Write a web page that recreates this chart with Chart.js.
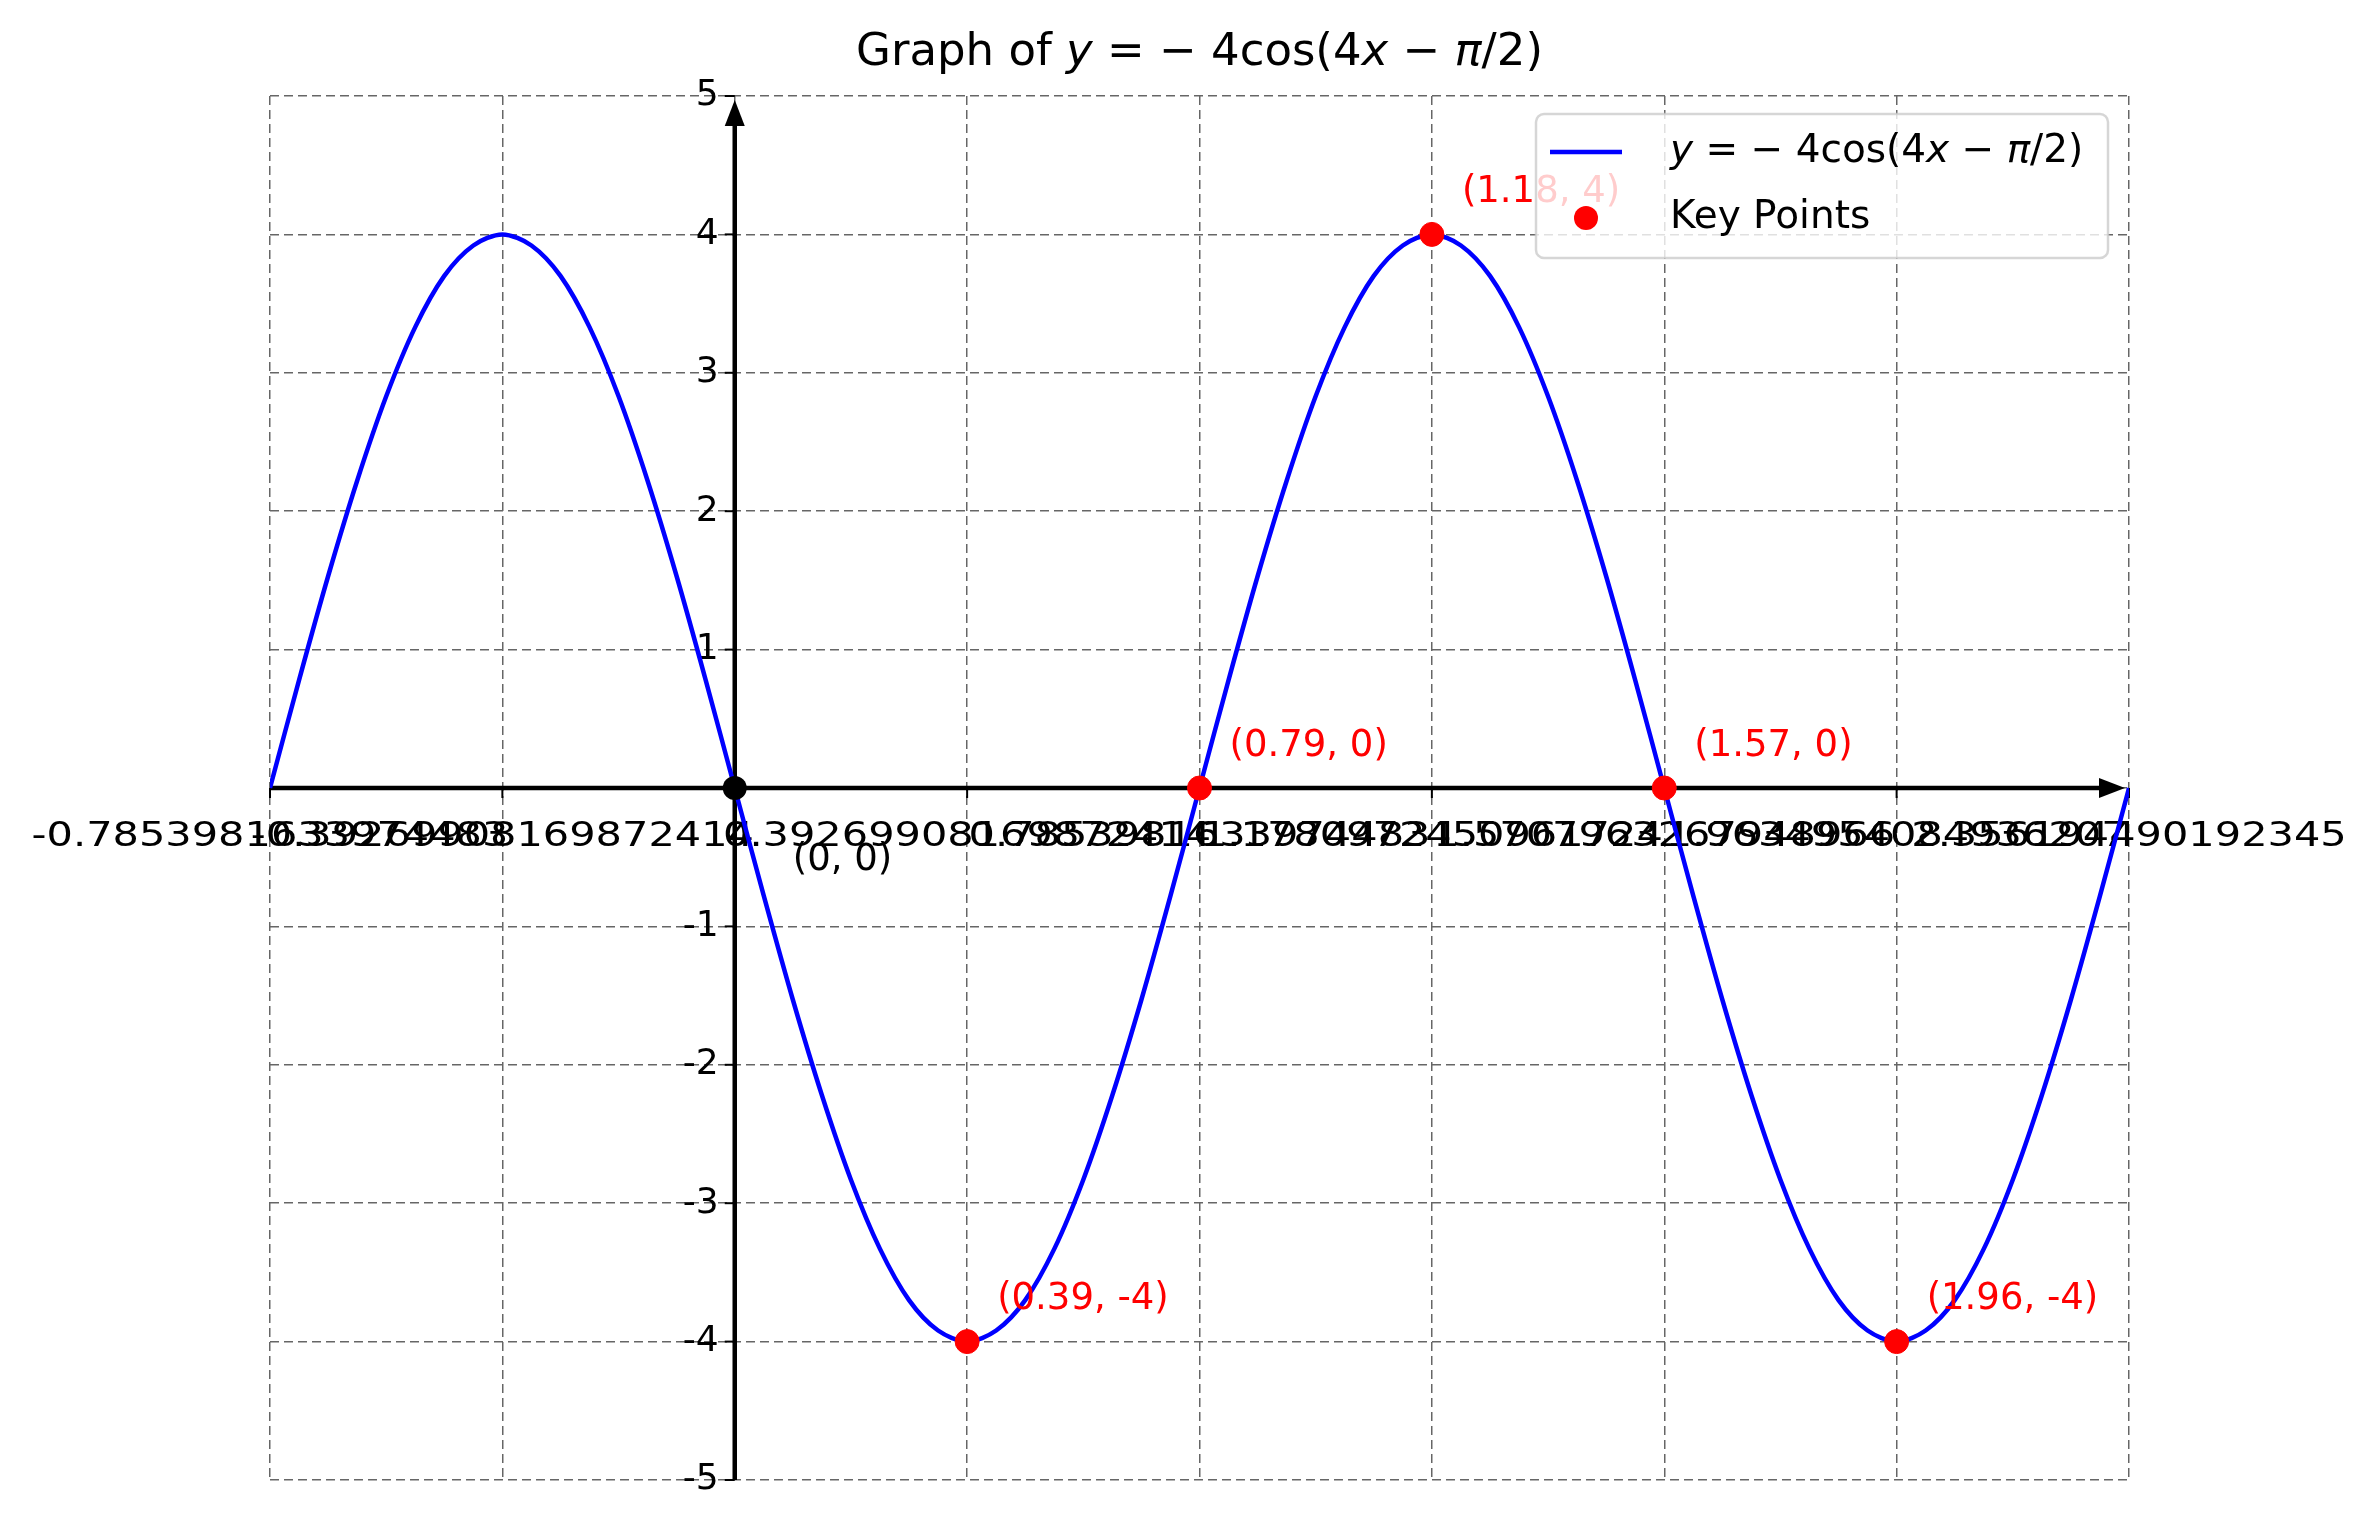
<!DOCTYPE html>
<html><head><meta charset="utf-8">
<script src="https://cdn.jsdelivr.net/npm/chart.js@4"></script>
<style>html,body{margin:0;padding:0;background:#fff}canvas{display:block}</style>
</head><body>
<canvas id="c" width="2378" height="1536" style="width:2378px;height:1536px"></canvas>
<script>
const curveX = [-0.7854,-0.7363,-0.6872,-0.6381,-0.5890,-0.5400,-0.4909,-0.4418,-0.3927,-0.3436,-0.2945,-0.2454,-0.1963,-0.1473,-0.0982,-0.0491,0,
0.0491,0.0982,0.1473,0.1963,0.2454,0.2945,0.3436,0.3927,0.4418,0.4909,0.5400,0.5890,0.6381,0.6872,0.7363,0.7854,
0.8345,0.8836,0.9327,0.9817,1.0308,1.0799,1.1290,1.1781,1.2272,1.2763,1.3254,1.3744,1.4235,1.4726,1.5217,1.5708,
1.6199,1.6690,1.7181,1.7671,1.8162,1.8653,1.9144,1.9635,2.0126,2.0617,2.1108,2.1598,2.2089,2.2580,2.3071,2.3562];
const curveY = [0,0.78,1.53,2.22,2.83,3.33,3.70,3.92,4,3.92,3.70,3.33,2.83,2.22,1.53,0.78,0,
-0.78,-1.53,-2.22,-2.83,-3.33,-3.70,-3.92,-4,-3.92,-3.70,-3.33,-2.83,-2.22,-1.53,-0.78,0,
0.78,1.53,2.22,2.83,3.33,3.70,3.92,4,3.92,3.70,3.33,2.83,2.22,1.53,0.78,0,
-0.78,-1.53,-2.22,-2.83,-3.33,-3.70,-3.92,-4,-3.92,-3.70,-3.33,-2.83,-2.22,-1.53,-0.78,0];
const keyX = [0.3927,0.7854,1.1781,1.5708,1.9635];
const keyY = [-4,0,4,0,-4];
const keyLabels = ["(0.39, -4)","(0.79, 0)","(1.18, 4)","(1.57, 0)","(1.96, -4)"];
const xTicks = [-0.7853981633974483,-0.39269908169872414,0,0.39269908169872414,0.7853981633974483,1.1780972450961724,1.5707963267948966,1.9634954084936207,2.356194490192345];
const xTickLabels = ["-0.7853981633974483","-0.39269908169872414","","0.39269908169872414","0.7853981633974483","1.1780972450961724","1.5707963267948966","1.9634954084936207","2.356194490192345"];
const yTicks = [-5,-4,-3,-2,-1,0,1,2,3,4,5];
const yTickLabels = ["-5","-4","-3","-2","-1","","1","2","3","4","5"];
const titleParts = [["Graph of ",0],["y",1],[" = − 4cos(4",0],["x",1],[" − ",0],["π",1],["/2)",0]];
const legendParts = [["y",1],[" = − 4cos(4",0],["x",1],[" − ",0],["π",1],["/2)",0]];

const F = '"DejaVu Sans"';
function stretchText(c, txt, x, y, sx){ c.save(); c.translate(x,y); c.scale(sx,1); c.fillText(txt,0,0); c.restore(); }
function mixed(c, parts, x, y, size, align){
  const w = parts.reduce((s,p)=>{c.font=(p[1]?'italic ':'')+size+'px '+F; return s+c.measureText(p[0]).width;},0);
  let cx = align==='center'? x-w/2 : x;
  c.textAlign='left';
  parts.forEach(p=>{c.font=(p[1]?'italic ':'')+size+'px '+F; c.fillText(p[0],cx,y); cx+=c.measureText(p[0]).width;});
}
const overlay = {
  id:'overlay',
  beforeDatasetsDraw(ch){
    const c=ch.ctx, xs=ch.scales.x, ys=ch.scales.y;
    const x0=xs.getPixelForValue(0), y0=ys.getPixelForValue(0);
    const L=xs.getPixelForValue(xTicks[0]), R=xs.getPixelForValue(xTicks[xTicks.length-1]);
    const T=ys.getPixelForValue(5), B=ys.getPixelForValue(-5);
    c.save();
    c.strokeStyle='#000'; c.lineWidth=4.5; c.lineCap='butt';
    c.beginPath(); c.moveTo(L,y0); c.lineTo(R-20,y0); c.stroke();
    c.beginPath(); c.moveTo(x0,B); c.lineTo(x0,T+20); c.stroke();
    c.fillStyle='#000';
    c.beginPath(); c.moveTo(R-4,y0); c.lineTo(R-30,y0-10); c.lineTo(R-30,y0+10); c.closePath(); c.fill();
    c.beginPath(); c.moveTo(x0,T+4); c.lineTo(x0-10,T+30); c.lineTo(x0+10,T+30); c.closePath(); c.fill();
    c.lineWidth=2;
    xTicks.forEach(v=>{const p=xs.getPixelForValue(v); c.beginPath(); c.moveTo(p,y0); c.lineTo(p,y0+10); c.stroke();});
    yTicks.forEach(v=>{const p=ys.getPixelForValue(v); c.beginPath(); c.moveTo(x0,p); c.lineTo(x0-10,p); c.stroke();});
    c.font='34px '+F; c.textAlign='center'; c.textBaseline='top';
    xTicks.forEach((v,i)=>{stretchText(c, xTickLabels[i], xs.getPixelForValue(v), y0+32, 1.22);});
    c.font='36px '+F; c.textAlign='right'; c.textBaseline='middle';
    yTicks.forEach((v,i)=>{c.fillText(yTickLabels[i], x0-16, ys.getPixelForValue(v));});
    c.restore();
  },
  afterDatasetsDraw(ch){
    const c=ch.ctx, xs=ch.scales.x, ys=ch.scales.y;
    c.save();
    const x0=xs.getPixelForValue(0), y0=ys.getPixelForValue(0);
    c.fillStyle='#000'; c.beginPath(); c.arc(x0,y0,12,0,Math.PI*2); c.fill();
    c.font='37px '+F; c.textAlign='left'; c.textBaseline='middle';
    c.fillText('(0, 0)', x0+58, y0+72);
    c.fillStyle='#ff0000';
    keyX.forEach((v,i)=>{c.fillText(keyLabels[i], xs.getPixelForValue(v)+30, ys.getPixelForValue(keyY[i])-42);});
    c.fillStyle='#000'; c.textBaseline='middle';
    mixed(c, titleParts, (ch.chartArea.left+ch.chartArea.right)/2, 53, 45, 'center');
    const lx=1536, ly=114, lw=572, lh=144;
    c.globalAlpha=0.8; c.fillStyle='#fff'; c.strokeStyle='#ccc'; c.lineWidth=2.5;
    c.beginPath(); c.roundRect(lx,ly,lw,lh,8); c.fill(); c.stroke(); c.globalAlpha=1;
    c.strokeStyle='#0000ff'; c.lineWidth=4.5;
    c.beginPath(); c.moveTo(lx+14,ly+38); c.lineTo(lx+86,ly+38); c.stroke();
    c.fillStyle='#ff0000'; c.beginPath(); c.arc(lx+50,ly+104,12,0,Math.PI*2); c.fill();
    c.fillStyle='#000';
    mixed(c, legendParts, lx+134, ly+38, 39, 'left');
    c.font='39px '+F; c.fillText('Key Points', lx+134, ly+104);
    c.restore();
  }
};

const gridOpts = {color:'#666', lineWidth:1.5, drawTicks:false};
new Chart(document.getElementById('c'), {
  type:'scatter',
  data:{datasets:[
    {data:keyX.map((x,i)=>({x,y:keyY[i]})), backgroundColor:'#ff0000', borderColor:'#ff0000', pointRadius:12, pointHoverRadius:12, showLine:false, order:0},
    {data:curveX.map((x,i)=>({x,y:curveY[i]})), borderColor:'#0000ff', borderWidth:4.5, pointRadius:0, showLine:true, tension:0.3, order:1}
  ]},
  plugins:[overlay],
  options:{
    responsive:false, animation:false, devicePixelRatio:1,
    layout:{padding:{left:270, right:249, top:96, bottom:56}},
    plugins:{legend:{display:false}, tooltip:{enabled:false}},
    scales:{
      x:{type:'linear', min:xTicks[0], max:xTicks[xTicks.length-1],
         afterBuildTicks:s=>{s.ticks=xTicks.map(v=>({value:v}));},
         ticks:{display:false}, grid:gridOpts, border:{display:false, dash:[9,5]}},
      y:{type:'linear', min:-5, max:5,
         afterBuildTicks:s=>{s.ticks=yTicks.map(v=>({value:v}));},
         ticks:{display:false}, grid:gridOpts, border:{display:false, dash:[9,5]}}
    }
  }
});
</script>
</body></html>
